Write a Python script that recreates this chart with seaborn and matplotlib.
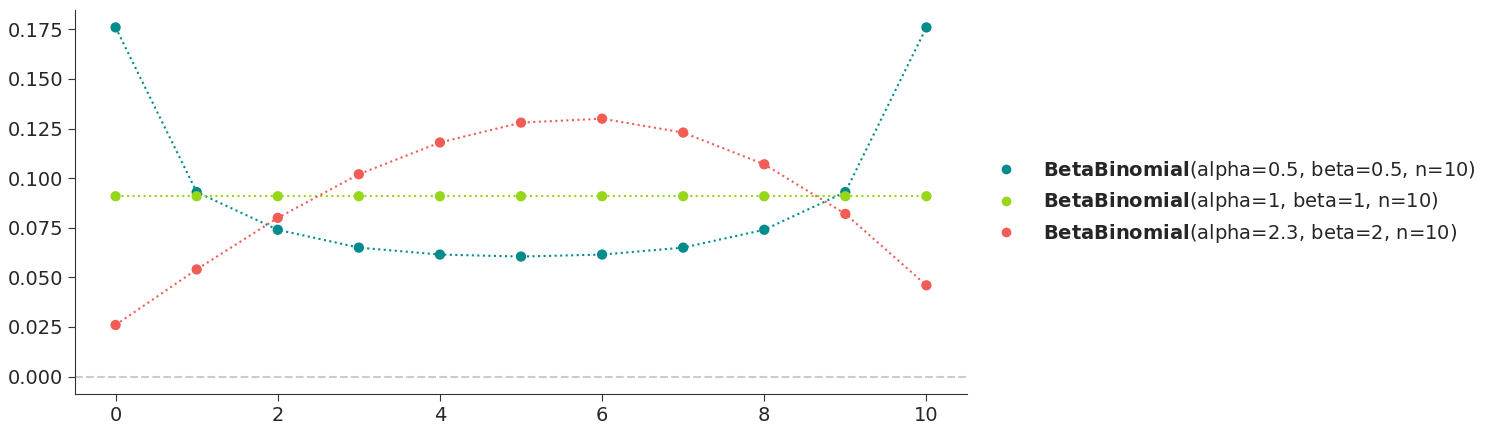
import numpy as np
import pandas as pd
import matplotlib as mpl
from matplotlib import pyplot as plt
import seaborn as sns

# values
x_vals = [0, 1, 2, 3, 4, 5, 6, 7, 8, 9, 10]
pmf_a05_b05 = [0.176, 0.093, 0.074, 0.065, 0.0615, 0.0605, 0.0615, 0.065, 0.074, 0.093, 0.176]
pmf_a1_b1 = [0.0909] * 11
pmf_a23_b2 = [0.026, 0.054, 0.080, 0.102, 0.118, 0.128, 0.130, 0.123, 0.107, 0.082, 0.046]

labels = [
    r"$\bf{BetaBinomial}$(alpha=0.5, beta=0.5, n=10)",
    r"$\bf{BetaBinomial}$(alpha=1, beta=1, n=10)",
    r"$\bf{BetaBinomial}$(alpha=2.3, beta=2, n=10)",
]
colors = ["#008b8c", "#97d61a", "#f25c56"]

df = pd.concat([
    pd.DataFrame({"x": x_vals, "pmf": vals, "dist": lab})
    for vals, lab in zip([pmf_a05_b05, pmf_a1_b1, pmf_a23_b2], labels)
], ignore_index=True)

sns.set_style("ticks")
plt.rcParams["font.family"] = ["DejaVu Sans"]

fig = plt.figure(figsize=(14.89, 4.33), dpi=100)
ax = fig.add_axes([0.0504, 0.09, 0.5990, 0.887])

palette = dict(zip(labels, colors))
sns.lineplot(data=df, x="x", y="pmf", hue="dist", hue_order=labels, palette=palette,
             linestyle=":", linewidth=1.5, legend=False, ax=ax)
sns.scatterplot(data=df, x="x", y="pmf", hue="dist", hue_order=labels, palette=palette,
                s=55, edgecolor="none", zorder=3, legend=False, ax=ax)
ax.axhline(0, color="#cccccc", linestyle="--", linewidth=1.5, zorder=0)

ax.set_xlabel("")
ax.set_ylabel("")
ax.set_xticks([0, 2, 4, 6, 8, 10])
ax.tick_params(labelsize=14, length=5, color="#333333", labelcolor="#262626")
for sp in ax.spines.values():
    sp.set_color("#333333")
sns.despine(ax=ax)

handles = [mpl.lines.Line2D([0], [0], marker="o", linestyle="none", markersize=7,
                            markerfacecolor=c, markeredgecolor="none") for c in colors]
ax.legend(handles, labels, loc="center left", bbox_to_anchor=(1.0, 0.5), frameon=False,
          fontsize=14, labelspacing=0.45, handletextpad=0.9, borderaxespad=0.6,
          labelcolor="#262626")

fig.savefig("out.png", dpi=100)
